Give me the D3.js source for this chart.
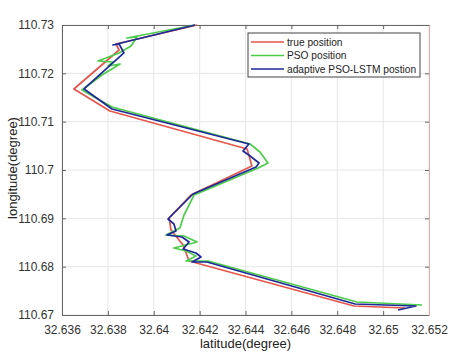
<!DOCTYPE html>
<html>
<head>
<meta charset="utf-8">
<script src="https://cdn.jsdelivr.net/npm/d3@7"></script>
<style>
  body { margin: 0; background: #fff; }
  text { font-family: "Liberation Sans", Arial, sans-serif; }
</style>
</head>
<body>
<div id="chart"></div>
<script>
// data (latitude, longitude in degrees)
const trueLat = [32.64189, 32.63835, 32.63849, 32.63652, 32.63809, 32.64407, 32.64428, 32.64162, 32.64067, 32.64075, 32.64128, 32.64154, 32.64873, 32.65096];
const trueLon = [110.7300, 110.72607, 110.72483, 110.71676, 110.71221, 110.70434, 110.70083, 110.69483, 110.69007, 110.68759, 110.68448, 110.68117, 110.67186, 110.67145];

const psoLat = [32.64180, 32.63883, 32.63927, 32.63901, 32.63849, 32.63757, 32.63822, 32.63801, 32.63853, 32.63774, 32.63687, 32.63818, 32.64420, 32.64463, 32.64498, 32.64455, 32.64176, 32.64132, 32.64114, 32.64053, 32.64132, 32.64189, 32.64088, 32.64141, 32.64184, 32.64141, 32.64237, 32.64886, 32.65170];
const psoLon = [110.7300, 110.72731, 110.72752, 110.72566, 110.72421, 110.72255, 110.72234, 110.72152, 110.72193, 110.71966, 110.71655, 110.71303, 110.70538, 110.70372, 110.70145, 110.70041, 110.69483, 110.69069, 110.68800, 110.68655, 110.68634, 110.68510, 110.68386, 110.68324, 110.68221, 110.68117, 110.68117, 110.67269, 110.67207];

const lstmLat = [32.64180, 32.63822, 32.63849, 32.63870, 32.63696, 32.63818, 32.64415, 32.64389, 32.64420, 32.64459, 32.64446, 32.64171, 32.64062, 32.64088, 32.64097, 32.64058, 32.64123, 32.64154, 32.64128, 32.64184, 32.64206, 32.64167, 32.64232, 32.64878, 32.65143, 32.65065];
const lstmLon = [110.7300, 110.72586, 110.72607, 110.72421, 110.71676, 110.71262, 110.70538, 110.70393, 110.70290, 110.70145, 110.70062, 110.69503, 110.68986, 110.68883, 110.68738, 110.68655, 110.68614, 110.68510, 110.68365, 110.68283, 110.68200, 110.68097, 110.68097, 110.67228, 110.67186, 110.67103];

const xTicks = [32.636, 32.638, 32.64, 32.642, 32.644, 32.646, 32.648, 32.65, 32.652];
const yTicks = [110.67, 110.68, 110.69, 110.7, 110.71, 110.72, 110.73];

const series = [
    { name: "true position", lat: trueLat, lon: trueLon, color: "#e5564c" },
    { name: "PSO position", lat: psoLat, lon: psoLon, color: "#4ccc4a" },
    { name: "adaptive PSO-LSTM postion", lat: lstmLat, lon: lstmLon, color: "#1d2a98" }
];

const W = 474, H = 354;
const margin = { top: 25, right: 45, bottom: 39, left: 62 };
const width = W - margin.left - margin.right,
    height = H - margin.top - margin.bottom;

const svg = d3.select("#chart").append("svg")
    .attr("width", W)
    .attr("height", H);

const g = svg.append("g")
    .attr("transform", `translate(${margin.left},${margin.top})`);

const x = d3.scaleLinear().domain([32.636, 32.652]).range([0, width]);
const y = d3.scaleLinear().domain([110.67, 110.73]).range([height, 0]);

// grid
g.append("g").selectAll("line").data(xTicks).enter().append("line")
    .attr("x1", d => x(d)).attr("x2", d => x(d))
    .attr("y1", 0).attr("y2", height)
    .style("stroke", "#e6e6e6").style("stroke-width", 1);
g.append("g").selectAll("line").data(yTicks).enter().append("line")
    .attr("x1", 0).attr("x2", width)
    .attr("y1", d => y(d)).attr("y2", d => y(d))
    .style("stroke", "#e6e6e6").style("stroke-width", 1);

// axes (ticks inside, MATLAB style)
const fmt = d => String(+d.toFixed(3));
const xAxis = g.append("g")
    .attr("transform", `translate(0,${height})`)
    .call(d3.axisBottom(x).tickValues(xTicks).tickFormat(fmt).tickSizeInner(-4).tickSizeOuter(0).tickPadding(10));
const yAxis = g.append("g")
    .call(d3.axisLeft(y).tickValues(yTicks).tickFormat(fmt).tickSizeInner(-4).tickSizeOuter(0).tickPadding(8));
const xTop = g.append("g")
    .call(d3.axisTop(x).tickValues(xTicks).tickFormat("").tickSizeInner(-4).tickSizeOuter(0));
const yRight = g.append("g")
    .attr("transform", `translate(${width},0)`)
    .call(d3.axisRight(y).tickValues(yTicks).tickFormat("").tickSizeInner(-4).tickSizeOuter(0));

[xAxis, yAxis, xTop, yRight].forEach(a => {
    a.selectAll("path").style("stroke", "#666");
    a.selectAll("line").style("stroke", "#666");
    a.selectAll("text").style("font-size", "12px").style("fill", "#333");
});
yRight.select("path").style("stroke", "#f2a8a8");

// lines
const line = s => d3.line()
    .x((d, i) => x(s.lat[i]))
    .y((d, i) => y(s.lon[i]))(s.lat);

g.append("g").selectAll("path").data(series).enter().append("path")
    .attr("d", d => line(d))
    .style("fill", "none")
    .style("stroke", d => d.color)
    .style("stroke-width", 1.7)
    .style("stroke-linejoin", "round");

// legend
const legend = g.append("g").attr("transform", "translate(186,8)");
legend.append("rect")
    .attr("width", 172).attr("height", 44)
    .style("fill", "#fff").style("stroke", "#444").style("stroke-width", 1);
series.forEach((s, i) => {
    legend.append("line")
        .attr("x1", 3).attr("x2", 36)
        .attr("y1", 9 + i * 13.5).attr("y2", 9 + i * 13.5)
        .style("stroke", s.color).style("stroke-width", 1.6);
    legend.append("text")
        .attr("x", 39).attr("y", 12.5 + i * 13.5)
        .style("font-size", "10.2px").style("fill", "#222")
        .text(s.name);
});

// axis labels
svg.append("text")
    .attr("x", margin.left + width / 2).attr("y", H - 6)
    .style("text-anchor", "middle").style("font-size", "13px").style("fill", "#222")
    .text("latitude(degree)");
svg.append("text")
    .attr("transform", `translate(12,${margin.top + height / 2 - 2}) rotate(-90)`)
    .attr("dy", "0.35em")
    .style("text-anchor", "middle").style("font-size", "13px").style("fill", "#222")
    .text("longitude(degree)");
</script>
</body>
</html>
